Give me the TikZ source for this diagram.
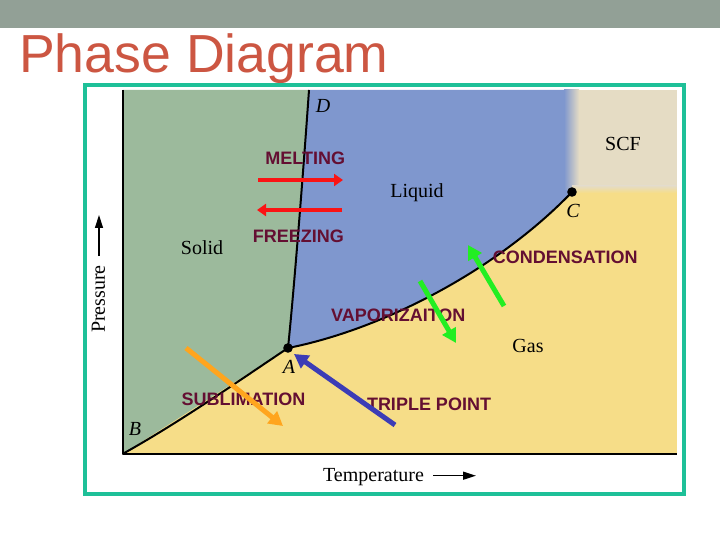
\documentclass[tikz,border=0pt]{standalone}
\usepackage{fontspec}
\setmainfont{Liberation Serif}
\newfontfamily\arialf{Liberation Sans}
\usetikzlibrary{arrows.meta}
\definecolor{barc}{RGB}{146,160,150}
\definecolor{titlec}{RGB}{204,86,66}
\definecolor{framec}{RGB}{30,192,152}
\definecolor{solidc}{RGB}{156,186,156}
\definecolor{liqc}{RGB}{127,151,206}
\definecolor{gasc}{RGB}{246,221,136}
\definecolor{scfc}{RGB}{229,220,196}
\definecolor{labc}{RGB}{100,15,50}
\definecolor{redc}{RGB}{250,20,20}
\definecolor{greenc}{RGB}{34,238,34}
\definecolor{orangec}{RGB}{255,165,30}
\definecolor{bluec}{RGB}{60,60,182}
\tikzset{
  phase/.style={line width=2pt, black, line join=round},
  region/.style={font=\fontsize{20}{22}\selectfont, inner sep=0pt},
  pointlab/.style={font=\itshape\fontsize{20}{22}\selectfont, inner sep=0pt},
  proc/.style={font=\arialf\bfseries\fontsize{18}{20}\selectfont, text=labc, inner sep=0pt},
  redarrow/.style={redc, line width=4.5pt, -{Triangle[length=9pt,width=12pt]}},
  diagarrow/.style={line width=5pt, -{Triangle[length=14pt,width=15pt]}},
  axisarrow/.style={line width=1.4pt, -{Triangle[length=13pt,width=8pt]}}
}
\begin{document}
\begin{tikzpicture}[x=1pt,y=-1pt]
\useasboundingbox (0,0) rectangle (720,540);
% top bar and title
\fill[barc] (0,0) rectangle (720,28);
\node[anchor=base west, text=titlec, font=\arialf\fontsize{53.6}{60}\selectfont, inner sep=0pt] (title) at (19,73) {Phase Diagram};
% key points
\coordinate (B) at (122.5,454);
\coordinate (D) at (309,90);
\coordinate (A) at (288,348);
\coordinate (C) at (572,192);
\coordinate (TL) at (122.5,90);
\coordinate (BR) at (676.5,454);
% regions
\fill[gasc] (TL) rectangle (BR);
\fill[scfc] (570,90) rectangle (676.5,190);
\fill[liqc] (D) -- (A) .. controls (380,330) and (495,272) .. (C) -- (572,190) -- (564,190) -- (564,90) -- cycle;
\shade[left color=liqc, right color=scfc] (564,90) rectangle (579,190);
\shade[top color=scfc, bottom color=gasc] (572,186) rectangle (676.5,193);
\fill[solidc] (TL) -- (D) -- (A) -- (B) -- cycle;
% phase lines
\draw[phase] (D) .. controls (302,190) and (293,300) .. (A);
\draw[phase] (B) .. controls (180,422) and (240,380) .. (A);
\draw[phase] (A) .. controls (380,330) and (495,272) .. (C);
\draw[phase] (TL) -- (B) -- (BR);
\fill (A) circle (4.8);
\fill (C) circle (4.8);
% frame
\draw[framec, line width=4.5pt] (85,85) rectangle (684,494);
% region labels
\node[region] (liq) at (417,193) {Liquid};
\node[region] (scf) at (623,144) {SCF};
\node[region] (sol) at (202,248) {Solid};
\node[region] (gas) at (528,346) {Gas};
\node[pointlab] (Dl) at (323,106) {D};
\node[pointlab] (Cl) at (573,211) {C};
\node[pointlab] (Al) at (289,367) {A};
\node[pointlab] (Bl) at (135,429) {B};
% axes labels
\node[region, rotate=90] (pres) at (98.5,299) {Pressure};
\coordinate (pa1) at (99,256);
\coordinate (pa2) at (99,215);
\draw[axisarrow] (pa1) -- (pa2);
\node[region] (temp) at (373.5,477) {Temperature};
\coordinate (ta1) at (433,475.7);
\coordinate (ta2) at (476,475.7);
\draw[axisarrow] (ta1) -- (ta2);
% process labels
\node[proc] (melt) at (305.3,158.8) {MELTING};
\node[proc] (freeze) at (298.3,236.7) {FREEZING};
\node[proc] (cond) at (565.3,257.3) {CONDENSATION};
\node[proc] (vap) at (398.3,315) {VAPORIZAITON};
\node[proc] (subl) at (243.5,399.7) {SUBLIMATION};
\node[proc] (trip) at (429,404.7) {TRIPLE POINT};
% process arrows
\coordinate (m1) at (258,180); \coordinate (m2) at (343,180);
\coordinate (f1) at (342,210); \coordinate (f2) at (257,210);
\draw[redarrow] (m1) -- (m2);
\draw[redarrow] (f1) -- (f2);
\coordinate (c1) at (504,306); \coordinate (c2) at (468,245);
\draw[diagarrow, greenc] (c1) -- (c2);
\coordinate (v1) at (420,281); \coordinate (v2) at (456,343);
\draw[diagarrow, greenc] (v1) -- (v2);
\coordinate (s1) at (186,348); \coordinate (s2) at (283,426);
\draw[diagarrow, orangec] (s1) -- (s2);
\coordinate (t1) at (395,425); \coordinate (t2) at (294,354);
\draw[diagarrow, bluec] (t1) -- (t2);
\end{tikzpicture}
\end{document}
